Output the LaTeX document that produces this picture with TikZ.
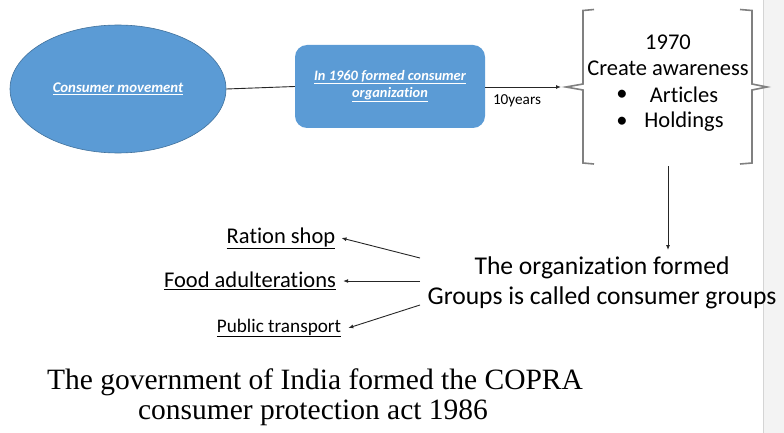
\documentclass[tikz,border=0pt]{standalone}
\usepackage{fontspec}
\setmainfont{Carlito}[Ligatures=NoCommon]
\newfontfamily\timesf{Liberation Serif}
\usetikzlibrary{arrows.meta,shapes.geometric}
\definecolor{officeblue}{HTML}{5B9BD5}
\definecolor{officeedge}{HTML}{41719C}
\definecolor{stripgray}{HTML}{F3F3F3}
\definecolor{stripedge}{HTML}{D4D4D4}
\tikzset{
  conn/.style={draw=black!85, line width=0.9pt},
  arr/.style={conn, -{Latex[length=5pt,width=4pt]}},
  brace/.style={draw=black!50, line width=1.6pt, line join=miter},
  lbl/.style={inner sep=0pt, align=center, text=black},
  bluetext/.style={text=white, font=\fontsize{14.8}{17}\selectfont\bfseries\itshape, align=center}
}
\begin{document}
\begin{tikzpicture}[x=1pt,y=-1pt]
\useasboundingbox (0,0) rectangle (784,433);
% right strip
\fill[stripgray] (763,0) rectangle (784,433);
\draw[stripedge, line width=0.8pt] (763,0) -- (763,433);

% ellipse
\node[ellipse, fill=officeblue, draw=officeedge, line width=0.6pt, minimum width=216pt, minimum height=128pt, inner sep=0pt] (cm) at (118,89) {};
\node[bluetext] (cmt) at (118,89) {\underline{Consumer movement}};

% rounded rect
\node[rectangle, rounded corners=12pt, fill=officeblue, minimum width=190pt, minimum height=83pt, inner sep=0pt] (org) at (390,86.5) {};
\node[bluetext, font=\fontsize{14.4}{18}\selectfont\bfseries\itshape] (orgt) at (390,86) {\underline{In 1960 formed consumer}\\[-1pt]\underline{organization}};

\draw[conn] (cm.east) -- (org.west);

% brace box
\coordinate (tip) at (561,87);
\node[minimum width=201pt, minimum height=155pt, inner sep=0pt] (aw) at (666.5,86.5) {};
\draw[brace] (594,9.5) -- (583,10.5) -- (583,84) -- (566,87) -- (583,90) -- (583,163) -- (594,164);
\draw[brace] (740,9.5) -- (752,10.5) -- (752,84) -- (767,87) -- (752,90) -- (752,163) -- (740,164);
\draw[arr] (org.east |- tip) -- (tip);
\node[lbl, font=\fontsize{15.2}{17}\selectfont] (ten) at (517,101) {10years};

\node[lbl, font=\fontsize{22.5}{26}\selectfont] (y70) at (668,42) {1970};
\node[lbl, font=\fontsize{22.5}{26}\selectfont] (ca) at (668,68) {Create awareness};
\node[lbl, font=\fontsize{22.5}{26}\selectfont] (b1) at (622,95) {•};
\node[lbl, font=\fontsize{22.5}{26}\selectfont] (art) at (684,95) {Articles};
\node[lbl, font=\fontsize{22.5}{26}\selectfont] (b2) at (622,122) {•};
\node[lbl, font=\fontsize{22.5}{26}\selectfont] (hold) at (684,122) {Holdings};

% consumer groups text
\node[lbl, font=\fontsize{25.6}{30}\selectfont] (grp1) at (602,268) {The organization formed};
\node[lbl, font=\fontsize{25.6}{30}\selectfont] (grp2) at (602,298) {Groups is called consumer groups};
\coordinate (down) at (668,250);
\draw[arr] (aw.south -| down) ++(0,2) -- (down);

% left items
\node[lbl, font=\fontsize{22.5}{26}\selectfont] (rs) at (281,238) {\underline{Ration shop}};
\node[lbl, font=\fontsize{22.5}{26}\selectfont] (fa) at (250,281) {\underline{Food adulterations}};
\node[lbl, font=\fontsize{19.2}{22}\selectfont] (pt) at (279,328) {\underline{Public transport}};
\coordinate (s1) at (420,258);
\coordinate (s2) at (420,281);
\coordinate (s3) at (420,305);
\draw[arr] (s1) -- ([xshift=6pt]rs.east);
\draw[arr] (s2) -- ([xshift=7pt]fa.east);
\draw[arr] (s3) -- ([xshift=7pt]pt.east);

% bottom text
\node[lbl, font=\timesf\fontsize{29.5}{31}\selectfont] (gov1) at (315,382) {The government of India formed the COPRA};
\node[lbl, font=\timesf\fontsize{29.5}{31}\selectfont] (gov2) at (313,413) {consumer protection act 1986};
\end{tikzpicture}
\end{document}
